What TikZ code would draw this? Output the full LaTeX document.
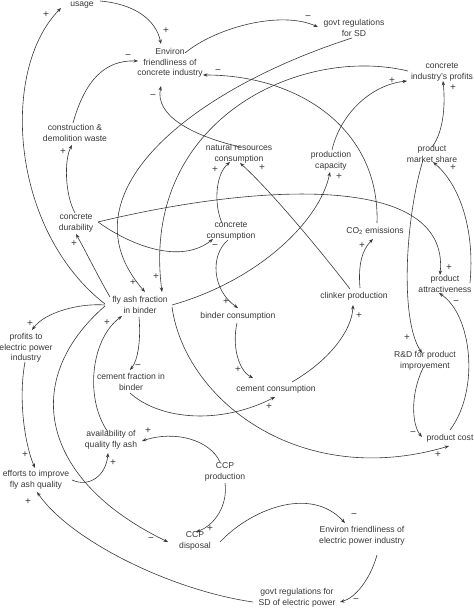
\documentclass[tikz,border=0pt]{standalone}
\usepackage{fontspec}
\setmainfont{Liberation Sans}
\usepackage{xcolor}
\usetikzlibrary{arrows.meta, calc}
\definecolor{ink}{rgb}{0.22,0.22,0.22}

\begin{document}
\begin{tikzpicture}[x=1pt, y=-1pt,
		var/.style={align=center, inner sep=1.5pt, text=ink, font=\fontsize{8.6}{10.5}\selectfont},
		pol/.style={inner sep=0pt, text=ink, font=\fontsize{10}{10}\selectfont},
		link/.style={draw=ink, line width=0.6pt, -{Stealth[length=4.5pt, width=3.4pt]}}]
		\useasboundingbox (0,0) rectangle (474,608);

		% variables
		\node[var] (usage) at (82,5) {usage};
		\node[var] (envC) at (170,63) {Environ\\friendliness of\\concrete industry};
		\node[var] (govSD) at (354,28) {govt regulations\\for SD};
		\node[var] (profC) at (442,72) {concrete\\industry's profits};
		\node[var] (cdw) at (75,133) {construction \&\\demolition waste};
		\node[var] (natres) at (239,154) {natural resources\\consumption};
		\node[var] (prodCap) at (331,161) {production\\capacity};
		\node[var] (mShare) at (432,154) {product\\market share};
		\node[var] (durab) at (76,223) {concrete\\durability};
		\node[var] (cCons) at (231,231) {concrete\\consumption};
		\node[var] (co2) at (375,231) {CO\textsubscript{2} emissions};
		\node[var] (attr) at (445,284) {product\\attractiveness};
		\node[var] (flyash) at (140,305) {fly ash fraction\\in binder};
		\node[var] (clinker) at (354,296) {clinker production};
		\node[var] (bCons) at (238,316) {binder consumption};
		\node[var] (profE) at (26,348) {profits to\\electric power\\industry};
		\node[var] (cFrac) at (131,382) {cement fraction in\\binder};
		\node[var] (rnd) at (425,361) {R\&D for product\\improvement};
		\node[var] (cemCons) at (276,389) {cement consumption};
		\node[var] (avail) at (111,440) {availability of\\quality fly ash};
		\node[var] (pCost) at (450,438) {product cost};
		\node[var] (ccpProd) at (225,472) {CCP\\production};
		\node[var] (effort) at (36,480) {efforts to improve\\fly ash quality};
		\node[var] (ccpDisp) at (195,541) {CCP\\disposal};
		\node[var] (envP) at (362,536) {Environ friendliness of\\electric power industry};
		\node[var] (govEP) at (297,598) {govt regulations for\\SD of electric power};

		% links
		\draw[link] ($(flyash)+(-35,-1)$) .. controls (10,230) and (0,70) .. ($(usage)+(-21,3)$);
		\draw[link] ($(usage)+(18,-4)$) .. controls (135,4) and (156,20) .. ($(envC)+(-9,-19)$);
		\draw[link] ($(envC)+(15,-10)$) .. controls (215,28) and (280,10) .. ($(govSD)+(-36,-1)$);
		\draw[link] ($(govSD)+(-2,10)$) .. controls (190,90) and (60,195) .. ($(flyash)+(5,-13)$);
		\draw[link] ($(profC)+(-34,-1)$) .. controls (300,45) and (140,120) .. ($(flyash)+(22,-13)$);
		\draw[link] ($(co2)+(2,-8)$) .. controls (380,130) and (300,75) .. ($(envC)+(33,12)$);
		\draw[link] ($(natres)+(1,-7)$) .. controls (190,135) and (155,115) .. ($(envC)+(-9,23)$);
		\draw[link] ($(cdw)+(-2,-10)$) .. controls (85,80) and (105,60) .. ($(envC)+(-32,-2)$);
		\draw[link] ($(durab)+(-1,-10)$) .. controls (65,195) and (64,160) .. ($(cdw)+(-3,12)$);
		\draw[link] ($(flyash)+(-30,-8)$) .. controls (100,280) and (85,250) .. ($(durab)+(0,11)$);
		\draw[link] ($(durab)+(22,-1)$) .. controls (250,185) and (450,170) .. ($(attr)+(-5,-9)$);
		\draw[link] ($(durab)+(22,-1)$) .. controls (130,245) and (180,265) .. ($(cCons)+(-18,8)$);
		\draw[link] ($(cCons)+(-9,-8)$) .. controls (214,205) and (215,175) .. ($(natres)+(-9,8)$);
		\draw[link] ($(clinker)+(-4,-7)$) .. controls (320,250) and (270,190) .. ($(natres)+(1,9)$);
		\draw[link] ($(cCons)+(-3,9)$) .. controls (210,255) and (212,290) .. ($(bCons)+(0,-8)$);
		\draw[link] ($(bCons)+(-1,7)$) .. controls (232,345) and (238,370) .. ($(cemCons)+(-23,-11)$);
		\draw[link] ($(cemCons)+(16,-7)$) .. controls (330,360) and (352,330) .. ($(clinker)+(-1,9)$);
		\draw[link] ($(clinker)+(6,-8)$) .. controls (358,265) and (362,250) .. ($(co2)+(-2,8)$);
		\draw[link] ($(flyash)+(32,0)$) .. controls (260,280) and (320,220) .. ($(prodCap)+(-1,11)$);
		\draw[link] ($(prodCap)+(1,-11)$) .. controls (340,115) and (370,85) .. ($(profC)+(-35,9)$);
		\draw[link] ($(mShare)+(0,-7)$) .. controls (445,130) and (445,100) .. ($(profC)+(1,9)$);
		\draw[link] ($(attr)+(25,-1)$) .. controls (475,230) and (460,185) .. ($(mShare)+(1,8)$);
		\draw[link] ($(mShare)+(-9,6)$) .. controls (405,220) and (400,320) .. ($(rnd)+(-3,-8)$);
		\draw[link] ($(rnd)+(-2,7)$) .. controls (410,395) and (412,425) .. ($(pCost)+(-28,-1)$);
		\draw[link] ($(pCost)+(0,-8)$) .. controls (480,390) and (472,315) .. ($(attr)+(-6,9)$);
		\draw[link] ($(flyash)+(32,2)$) .. controls (185,400) and (300,490) .. ($(pCost)+(-1,8)$);
		\draw[link] ($(flyash)+(-1,12)$) .. controls (141,340) and (138,360) .. ($(cFrac)+(-1,-12)$);
		\draw[link] ($(cFrac)+(-1,11)$) .. controls (160,420) and (220,425) .. ($(cemCons)+(-1,8)$);
		\draw[link] ($(avail)+(-3,-8)$) .. controls (85,400) and (90,340) .. ($(flyash)+(-18,11)$);
		\draw[link] ($(ccpProd)+(-5,-10)$) .. controls (210,440) and (175,430) .. ($(avail)+(31,1)$);
		\draw[link] ($(ccpProd)+(0,11)$) .. controls (228,505) and (215,525) .. ($(ccpDisp)+(1,-9)$);
		\draw[link] ($(ccpDisp)+(25,1)$) .. controls (250,510) and (310,485) .. ($(envP)+(-17,-13)$);
		\draw[link] ($(envP)+(15,19)$) .. controls (370,580) and (355,598) .. ($(govEP)+(43,4)$);
		\draw[link] ($(govEP)+(-44,4)$) .. controls (170,590) and (70,540) .. ($(effort)+(1,12)$);
		\draw[link] ($(effort)+(36,0)$) .. controls (90,488) and (106,475) .. ($(avail)+(-3,13)$);
		\draw[link] ($(profE)+(-1,14)$) .. controls (18,400) and (25,445) .. ($(effort)+(-1,-12)$);
		\draw[link] ($(flyash)+(-35,0)$) .. controls (80,303) and (45,312) .. ($(profE)+(6,-18)$);
		\draw[link] ($(flyash)+(-35,1)$) .. controls (20,380) and (40,480) .. ($(ccpDisp)+(-27,1)$);

		% polarities
		\node[pol] (s1) at (46,15) {+};
		\node[pol] (s2) at (166,31) {+};
		\node[pol] (s3) at (308,18) {−};
		\node[pol] (s4) at (133,283) {+};
		\node[pol] (s5) at (156,277) {+};
		\node[pol] (s6) at (218,72) {−};
		\node[pol] (s7) at (153,97) {−};
		\node[pol] (s8) at (128,57) {−};
		\node[pol] (s9) at (63,152) {+};
		\node[pol] (s10) at (74,244) {+};
		\node[pol] (s11) at (449,268) {+};
		\node[pol] (s12) at (215,247) {−};
		\node[pol] (s13) at (215,170) {+};
		\node[pol] (s14) at (262,168) {+};
		\node[pol] (s15) at (226,302) {+};
		\node[pol] (s16) at (238,370) {+};
		\node[pol] (s17) at (359,316) {+};
		\node[pol] (s18) at (362,246) {+};
		\node[pol] (s19) at (339,177) {+};
		\node[pol] (s20) at (392,81) {+};
		\node[pol] (s21) at (453,88) {+};
		\node[pol] (s22) at (453,168) {+};
		\node[pol] (s23) at (407,338) {+};
		\node[pol] (s24) at (413,434) {−};
		\node[pol] (s25) at (456,303) {−};
		\node[pol] (s26) at (438,455) {+};
		\node[pol] (s27) at (138,367) {−};
		\node[pol] (s28) at (269,407) {+};
		\node[pol] (s29) at (107,323) {+};
		\node[pol] (s30) at (148,431) {+};
		\node[pol] (s31) at (210,529) {+};
		\node[pol] (s32) at (354,516) {−};
		\node[pol] (s33) at (356,601) {−};
		\node[pol] (s34) at (28,502) {+};
		\node[pol] (s35) at (113,463) {+};
		\node[pol] (s36) at (25,455) {+};
		\node[pol] (s37) at (30,324) {+};
		\node[pol] (s38) at (151,540) {−};
	\end{tikzpicture}
\end{document}
